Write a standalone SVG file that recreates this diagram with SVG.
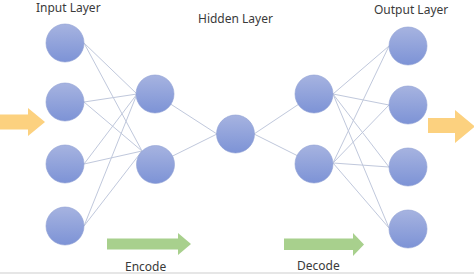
<svg xmlns="http://www.w3.org/2000/svg" width="474" height="274" viewBox="0 0 474 274">
<defs>
<linearGradient id="nodeGrad" x1="0" y1="0" x2="0" y2="1">
<stop offset="0" stop-color="#a6b3e0"/>
<stop offset="1" stop-color="#7d93d6"/>
</linearGradient>
<style>
.node{fill:url(#nodeGrad);stroke:#8fa0d4;stroke-width:0.6}
.edge{stroke:#c0c8dc;stroke-width:1;fill:none}
.lbl{font-family:"Noto Sans","Liberation Sans",sans-serif;font-size:12px;fill:#3a3a3a}
.yarrow{fill:#fcd17f}
.garrow{fill:#a8d08d}
</style>
</defs>
<rect width="474" height="274" fill="#ffffff"/>
<rect x="0" y="272" width="474" height="2" fill="#e6e6e6"/>
<g id="connectors">
<line class="edge" x1="84" y1="43" x2="137" y2="94"/>
<line class="edge" x1="84" y1="43" x2="142" y2="151"/>
<line class="edge" x1="84" y1="102" x2="137" y2="94"/>
<line class="edge" x1="84" y1="102" x2="142" y2="151"/>
<line class="edge" x1="84" y1="164" x2="137" y2="94"/>
<line class="edge" x1="84" y1="164" x2="142" y2="151"/>
<line class="edge" x1="84" y1="226" x2="137" y2="94"/>
<line class="edge" x1="84" y1="226" x2="142" y2="151"/>
<line class="edge" x1="155" y1="94" x2="217" y2="134"/>
<line class="edge" x1="155.5" y1="164.5" x2="217" y2="134"/>
<line class="edge" x1="254" y1="134" x2="314" y2="94"/>
<line class="edge" x1="254" y1="134" x2="314" y2="164"/>
<line class="edge" x1="333" y1="94" x2="389" y2="46"/>
<line class="edge" x1="333" y1="94" x2="389" y2="105"/>
<line class="edge" x1="333" y1="94" x2="389" y2="167"/>
<line class="edge" x1="333" y1="94" x2="389" y2="228"/>
<line class="edge" x1="333" y1="163" x2="389" y2="46"/>
<line class="edge" x1="333" y1="163" x2="389" y2="105"/>
<line class="edge" x1="333" y1="163" x2="389" y2="167"/>
<line class="edge" x1="333" y1="163" x2="389" y2="228"/>
</g>
<g id="input1"><circle class="node" cx="65" cy="43" r="19"/></g>
<g id="input2"><circle class="node" cx="65" cy="102" r="19"/></g>
<g id="input3"><circle class="node" cx="65" cy="164" r="19"/></g>
<g id="input4"><circle class="node" cx="65" cy="226" r="19"/></g>
<g id="enc1"><circle class="node" cx="155" cy="94" r="19"/></g>
<g id="enc2"><circle class="node" cx="155.5" cy="164.5" r="19"/></g>
<g id="hidden"><circle class="node" cx="235.5" cy="134" r="19"/></g>
<g id="dec1"><circle class="node" cx="314" cy="94" r="19"/></g>
<g id="dec2"><circle class="node" cx="314" cy="164" r="19"/></g>
<g id="out1"><circle class="node" cx="408" cy="46" r="19"/></g>
<g id="out2"><circle class="node" cx="408" cy="105" r="19"/></g>
<g id="out3"><circle class="node" cx="408" cy="167" r="19"/></g>
<g id="out4"><circle class="node" cx="408" cy="229" r="19"/></g>
<g id="arrow-in"><polygon class="yarrow" points="0,114.5 28,114.5 28,108 45,122 28,136 28,129.5 0,129.5"/></g>
<g id="arrow-out"><polygon class="yarrow" points="428,118 455,118 455,110 475,126.5 455,143 455,133 428,133"/></g>
<g id="arrow-encode"><polygon class="garrow" points="107,238.5 178,238.5 178,233 191,244 178,255 178,249.5 107,249.5"/></g>
<g id="arrow-decode"><polygon class="garrow" points="284,238.5 353,238.5 353,233 364,244.5 353,256 353,250 284,250"/></g>
<g id="labels">
<text class="lbl" x="36" y="12">Input Layer</text>
<text class="lbl" x="198" y="23">Hidden Layer</text>
<text class="lbl" x="374" y="14">Output Layer</text>
<text class="lbl" x="125" y="271">Encode</text>
<text class="lbl" x="297" y="269.5">Decode</text>
</g>
</svg>
